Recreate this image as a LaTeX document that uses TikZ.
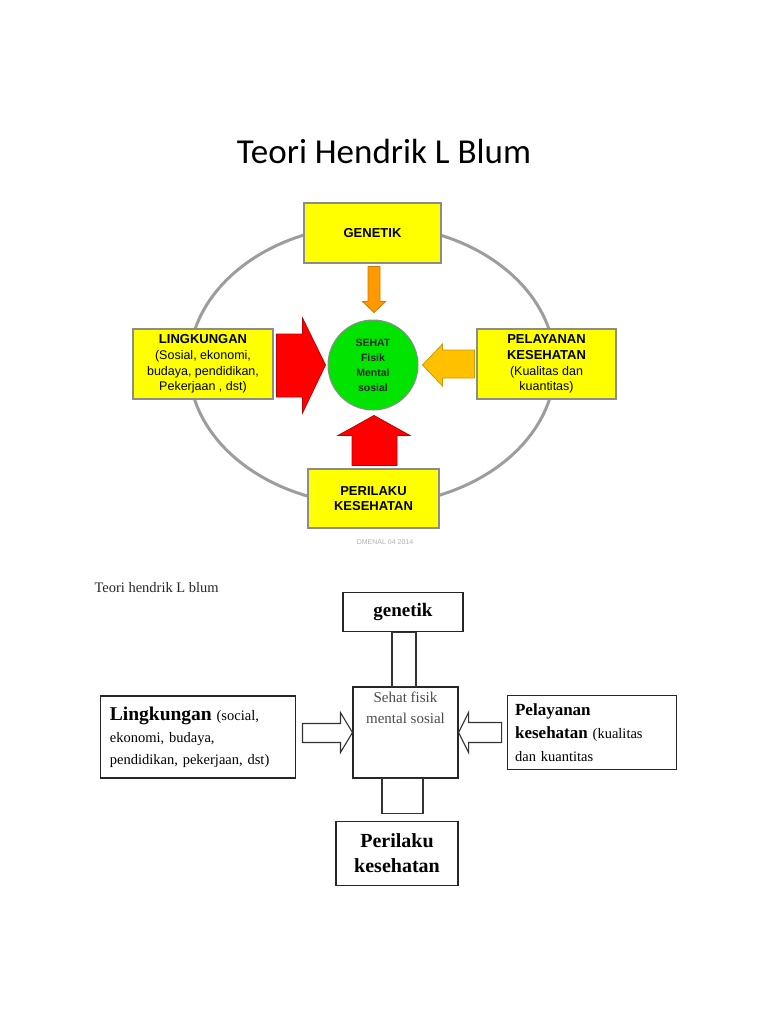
\documentclass[tikz,border=0pt]{standalone}
\usepackage{fontspec}
\setmainfont{Liberation Serif}
\newfontfamily\judulfont{Carlito}
\newfontfamily\arialfont{Liberation Sans}
\usepackage{tikz}
\usetikzlibrary{positioning}

\definecolor{kuning}{HTML}{FFFF00}
\definecolor{jingga}{HTML}{FF9900}
\definecolor{emas}{HTML}{FFC000}
\definecolor{merah}{HTML}{FF0000}
\definecolor{hijau}{HTML}{00E400}
\definecolor{abu}{HTML}{8C8C8C}

\newcommand{\tipis}{\mdseries\fontsize{12.5}{15.7}\selectfont}

\begin{document}
\frenchspacing
\begin{tikzpicture}[
			x=1pt, y=-1pt,
			faktor/.style={
				rectangle,
				draw=abu,
				line width=1.3,
				fill=kuning,
				align=center,
				inner sep=0,
				font=\arialfont\bfseries\fontsize{13}{15.7}\selectfont
			},
			pusat/.style={
				circle,
				draw=abu,
				line width=1,
				fill=hijau,
				minimum size=90,
				inner sep=0,
				align=center,
				text=black!85,
				font=\arialfont\bfseries\fontsize{10.5}{15}\selectfont
			},
			panah/.style={
				line width=0.8,
				line join=miter
			},
			kotak/.style={
				rectangle,
				draw=black!85,
				line width=1.1,
				fill=white,
				inner sep=0,
				font=\frenchspacing\fontsize{14.5}{22}\selectfont
			},
			garis/.style={
				draw=black!80,
				line width=1.1
			}
			]
			\useasboundingbox (0,0) rectangle (768,1024);
			\fill[white] (0,0) rectangle (768,1024);
			
			% gambar atas: skema berwarna
			\node [font=\judulfont\fontsize{35}{40}\selectfont] (judul) at (384,151) {Teori Hendrik L Blum};
			
			\draw [abu!85, line width=3] (372,365) ellipse [x radius=183, y radius=140];
			
			\node [faktor, minimum width=137, minimum height=60] (gen) at (372.5,233) {GENETIK};
			
			\node [faktor, minimum width=140, minimum height=70] (ling) at (203,364)
			{LINGKUNGAN\\
			\tipis (Sosial, ekonomi,\\
			\tipis budaya, pendidikan,\\
			\tipis Pekerjaan , dst)};
			
			\node [faktor, minimum width=139, minimum height=70] (pel) at (546.5,364)
			{PELAYANAN\\
			KESEHATAN\\
			\tipis (Kualitas dan\\
			\tipis kuantitas)};
			
			\node [faktor, minimum width=131, minimum height=59] (per) at (373.5,498.5)
			{PERILAKU\\
			KESEHATAN};
			
			\node [pusat] (bulat) at (373,365) {SEHAT\\Fisik\\Mental\\sosial};
			
			% panah blok menuju lingkaran
			\draw [panah, fill=jingga, draw=jingga!80!black, shift={(bulat.north)}]
				(1,-7) -- (12.5,-18) -- (7,-18) -- (7,-53) -- (-5,-53) -- (-5,-18) -- (-10.5,-18) -- cycle;
			\draw [panah, fill=merah, draw=merah!75!black, shift={(bulat.west)}]
				(-2,0) -- (-25,-47) -- (-25,-31) -- (-51,-31) -- (-51,32) -- (-25,32) -- (-25,48) -- cycle;
			\draw [panah, fill=emas, draw=emas!80!black, shift={(bulat.east)}]
				(4,0) -- (24,-21) -- (24,-15) -- (56,-15) -- (56,13) -- (24,13) -- (24,21) -- cycle;
			\draw [panah, fill=merah, draw=merah!75!black, shift={(bulat.south)}]
				(1,5) -- (37,25) -- (24,25) -- (24,55) -- (-21,55) -- (-21,25) -- (-35,25) -- cycle;
			
			\node [text=black!30, font=\arialfont\fontsize{7}{8}\selectfont] (sumber) at (385,542) {DMENAL 04 2014};
			
			% gambar bawah: skema hitam putih
			\node [anchor=base west, font=\fontsize{14.5}{16}\selectfont, text=black!85] (judul2) at (91,592) {Teori hendrik L blum};
			
			\node [kotak, minimum width=105, minimum height=91,
				label={[anchor=north, yshift=-2, align=center, text=black!70, font=\fontsize{15}{21}\selectfont]north:Sehat fisik\\mental sosial}]
				(sehat) at (405.5,732.5) {};
			
			\node [kotak, minimum width=120, minimum height=39, above=54pt of sehat, xshift=-2.5pt,
				font=\bfseries\fontsize{19}{22}\selectfont] (genetik) {genetik};
			
			\node [kotak, minimum width=195, minimum height=82, left=56pt of sehat, yshift=-4.5pt,
				text width=177, align=left] (lingkungan)
			{{\bfseries\fontsize{19.5}{22}\selectfont Lingkungan} (social,\\
			ekonomi, budaya,\\
			pendidikan, pekerjaan, dst)};
			
			\node [kotak, minimum width=169, minimum height=74, right=48pt of sehat,
				text width=153, align=left, font=\frenchspacing\fontsize{14.5}{23}\selectfont] (pelayanan)
			{{\bfseries\fontsize{17}{23}\selectfont Pelayanan}\\
			{\bfseries\fontsize{17}{23}\selectfont kesehatan} (kualitas\\
			dan kuantitas};
			
			\node [kotak, minimum width=122, minimum height=64, below=42pt of sehat, xshift=-8.5pt,
				align=center, font=\bfseries\fontsize{20}{25}\selectfont] (perilaku)
			{Perilaku\\kesehatan};
			
			% penghubung
			\draw [garis] ([xshift=-11pt]genetik.south) rectangle ([xshift=10.5pt]sehat.north);
			\draw [garis] ([xshift=-23.5pt]sehat.south) rectangle ([xshift=26pt, yshift=7pt]perilaku.north);
			
			\draw [garis, fill=white, shift={(sehat.west)}]
				(0,0) -- (-12,-20) -- (-12,-9) -- (-50,-9) -- (-50,10) -- (-12,10) -- (-12,20) -- cycle;
			\draw [garis, fill=white, shift={(sehat.east)}]
				(0,0) -- (10,-20) -- (10,-10) -- (43,-10) -- (43,10) -- (10,10) -- (10,20) -- cycle;
			
\end{tikzpicture}
\end{document}
